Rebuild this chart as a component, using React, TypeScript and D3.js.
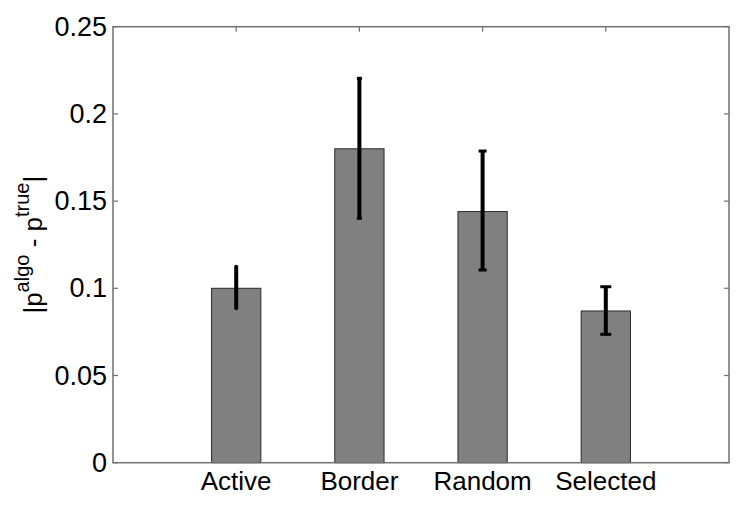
import React, { useEffect, useRef } from 'react';
import * as d3 from 'd3';

// data
const categories = ['Active', 'Border', 'Random', 'Selected'];
const means = [0.1, 0.18, 0.144, 0.087];
const errLow = [0.0885, 0.1401, 0.1105, 0.0736];
const errHigh = [0.1124, 0.2204, 0.1787, 0.1009];
const yTicks = [0, 0.05, 0.1, 0.15, 0.2, 0.25];
const yTickLabels = ['0', '0.05', '0.1', '0.15', '0.2', '0.25'];

const App: React.FC = () => {
  const svgRef = useRef<SVGSVGElement>(null);

  useEffect(() => {
    if (!svgRef.current) return;
    const svg = d3.select(svgRef.current);
    svg.selectAll('*').remove();

    const W = 745;
    const H = 508;
    const left = 113, right = 729, top = 26.7, bottom = 462.7;
    const font = '"Liberation Sans", Arial, Helvetica, sans-serif';
    const frameColor = '#707070';
    const capHalf = [0, 2.5, 4, 5.5]; // errorbar cap half-widths (px)

    svg.attr('width', W).attr('height', H);
    svg.append('rect').attr('width', W).attr('height', H).attr('fill', '#fff');

    const x = d3.scaleLinear().domain([0, categories.length + 1]).range([left, right]);
    const y = d3.scaleLinear().domain([0, 0.25]).range([bottom, top]);
    const barW = x(0.4) - x(0);

    // bars
    svg.selectAll('rect.bar')
      .data(means)
      .join('rect')
      .attr('class', 'bar')
      .attr('x', (_, i) => x(i + 1) - barW / 2)
      .attr('y', d => y(d))
      .attr('width', barW)
      .attr('height', d => y(0) - y(d))
      .attr('fill', '#808080')
      .attr('stroke', '#2a2a2a')
      .attr('stroke-width', 1);

    // error bars
    const eb = svg.append('g');
    categories.forEach((_, i) => {
      const cx = x(i + 1);
      eb.append('line')
        .attr('x1', cx).attr('x2', cx)
        .attr('y1', y(errLow[i])).attr('y2', y(errHigh[i]))
        .attr('stroke', '#000').attr('stroke-width', 4)
        .attr('stroke-linecap', i === 0 ? 'round' : 'butt');
      if (capHalf[i] > 0) {
        [errLow[i], errHigh[i]].forEach(v => {
          eb.append('line')
            .attr('x1', cx - capHalf[i]).attr('x2', cx + capHalf[i])
            .attr('y1', y(v)).attr('y2', y(v))
            .attr('stroke', '#000').attr('stroke-width', 3);
        });
      }
    });

    // frame
    svg.append('rect')
      .attr('x', left).attr('y', top)
      .attr('width', right - left).attr('height', bottom - top)
      .attr('fill', 'none')
      .attr('stroke', frameColor)
      .attr('stroke-width', 1.5);

    const tickLen = 5;
    // y ticks left + right (inside)
    yTicks.forEach(t => {
      svg.append('line')
        .attr('x1', left).attr('x2', left + tickLen)
        .attr('y1', y(t)).attr('y2', y(t))
        .attr('stroke', frameColor).attr('stroke-width', 1.2);
      svg.append('line')
        .attr('x1', right).attr('x2', right - tickLen)
        .attr('y1', y(t)).attr('y2', y(t))
        .attr('stroke', frameColor).attr('stroke-width', 1.2);
    });
    // x ticks top (inside)
    categories.forEach((_, i) => {
      svg.append('line')
        .attr('x1', x(i + 1)).attr('x2', x(i + 1))
        .attr('y1', top).attr('y2', top + tickLen)
        .attr('stroke', frameColor).attr('stroke-width', 1.2);
    });

    // y tick labels
    svg.selectAll('text.ytick')
      .data(yTicks)
      .join('text')
      .attr('class', 'ytick')
      .attr('x', left - 6)
      .attr('y', d => y(d) + 9)
      .attr('text-anchor', 'end')
      .style('font-family', font)
      .style('font-size', '27px')
      .attr('fill', '#000')
      .text((_, i) => yTickLabels[i]);

    // category labels
    svg.selectAll('text.xtick')
      .data(categories)
      .join('text')
      .attr('class', 'xtick')
      .attr('x', (_, i) => x(i + 1))
      .attr('y', 490.3)
      .attr('text-anchor', 'middle')
      .style('font-family', font)
      .style('font-size', '26px')
      .attr('fill', '#000')
      .text(d => d);

    // y axis label |p^algo - p^true|
    const yl = svg.append('text')
      .attr('transform', `translate(42,${(top + bottom) / 2}) rotate(-90)`)
      .attr('text-anchor', 'middle')
      .style('font-family', font)
      .style('font-size', '26px')
      .attr('fill', '#000');
    yl.append('tspan').text('|p');
    yl.append('tspan').attr('dy', -13).style('font-size', '20px').text('algo');
    yl.append('tspan').attr('dy', 13).text(' - p');
    yl.append('tspan').attr('dy', -13).style('font-size', '20px').text('true');
    yl.append('tspan').attr('dy', 13).text('|');
  }, []);

  return <svg ref={svgRef} style={{ position: 'absolute', left: 0, top: 0, display: 'block' }}></svg>;
};

export default App;
